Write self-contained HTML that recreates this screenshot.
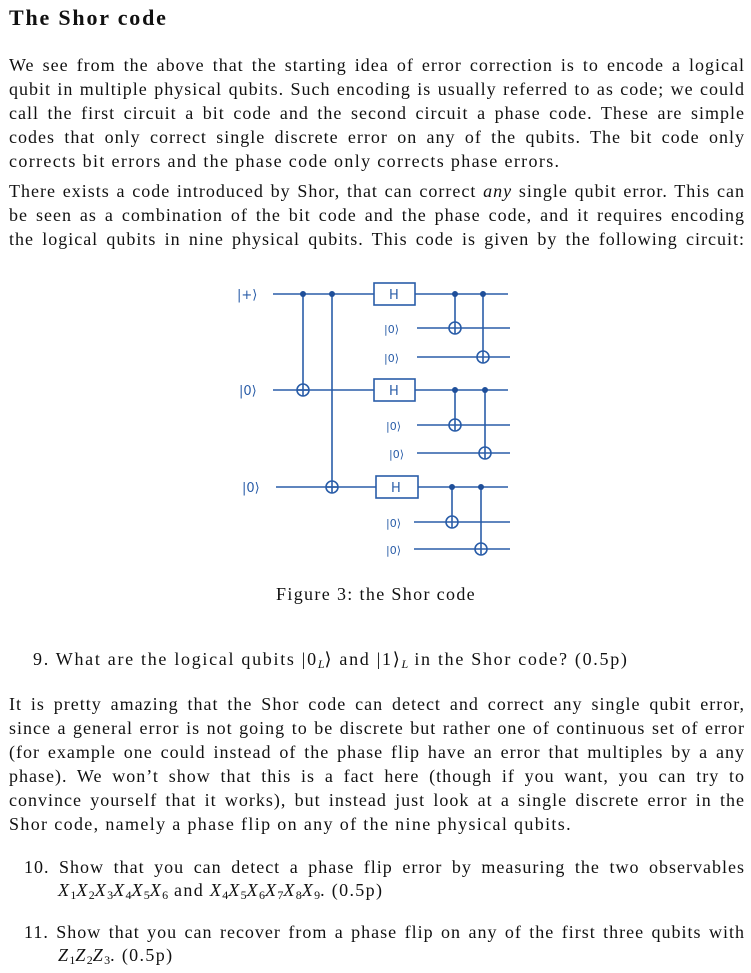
<!DOCTYPE html>
<html><head><meta charset="utf-8"><style>
body{margin:0;width:751px;height:973px;background:#fff;position:relative;overflow:hidden;font-family:"Liberation Serif",serif;color:#111;}
.l{position:absolute;left:9px;width:736px;font-size:18px;letter-spacing:1.0px;line-height:20px;white-space:nowrap;text-align:justify;text-align-last:justify;}
.n{text-align-last:auto;letter-spacing:1.35px;}
.t{position:absolute;left:9px;top:5px;font-size:22px;letter-spacing:1.8px;font-weight:bold;}
i{font-style:italic;}
sub{font-size:12px;vertical-align:-3px;line-height:0;letter-spacing:0;}
</style></head><body>
<div class="t">The Shor code</div>
<div class="l" style="top:55px">We see from the above that the starting idea of error correction is to encode a logical</div>
<div class="l" style="top:79px">qubit in multiple physical qubits. Such encoding is usually referred to as code; we could</div>
<div class="l" style="top:103px">call the first circuit a bit code and the second circuit a phase code. These are simple</div>
<div class="l" style="top:127px">codes that only correct single discrete error on any of the qubits. The bit code only</div>
<div class="l n" style="top:151px">corrects bit errors and the phase code only corrects phase errors.</div>
<div class="l" style="top:181px">There exists a code introduced by Shor, that can correct <i>any</i> single qubit error. This can</div>
<div class="l" style="top:205px">be seen as a combination of the bit code and the phase code, and it requires encoding</div>
<div class="l" style="top:229px">the logical qubits in nine physical qubits. This code is given by the following circuit:</div>

<svg style="position:absolute;left:0;top:0" width="751" height="973">
<g stroke="#2a5da8" stroke-width="1.6" fill="none">
<line x1="273" y1="294" x2="374" y2="294"/><line x1="415" y1="294" x2="508" y2="294"/>
<line x1="273" y1="390" x2="374" y2="390"/><line x1="415" y1="390" x2="508" y2="390"/>
<line x1="276" y1="487" x2="376" y2="487"/><line x1="418" y1="487" x2="508" y2="487"/>
<line x1="417" y1="328" x2="510" y2="328"/><line x1="417" y1="357" x2="510" y2="357"/>
<line x1="417" y1="425" x2="510" y2="425"/><line x1="417" y1="453" x2="510" y2="453"/>
<line x1="414" y1="522" x2="510" y2="522"/><line x1="414" y1="549" x2="510" y2="549"/>
<rect x="374" y="283" width="41" height="22"/><rect x="374" y="379" width="41" height="22"/><rect x="376" y="476" width="42" height="22"/>
<line x1="303" y1="294" x2="303" y2="396"/><line x1="332" y1="294" x2="332" y2="493"/>
<line x1="455" y1="294" x2="455" y2="334"/><line x1="483" y1="294" x2="483" y2="363"/>
<line x1="455" y1="390" x2="455" y2="431"/><line x1="485" y1="390" x2="485" y2="459"/>
<line x1="452" y1="487" x2="452" y2="528"/><line x1="481" y1="487" x2="481" y2="555"/>
<circle cx="303" cy="390" r="6"/><circle cx="332" cy="487" r="6"/>
<circle cx="455" cy="328" r="6"/><circle cx="483" cy="357" r="6"/>
<circle cx="455" cy="425" r="6"/><circle cx="485" cy="453" r="6"/>
<circle cx="452" cy="522" r="6"/><circle cx="481" cy="549" r="6"/>
<line x1="297" y1="390" x2="309" y2="390"/><line x1="326" y1="487" x2="338" y2="487"/>
</g>
<g fill="#1f4f9a">
<circle cx="303" cy="294" r="3"/><circle cx="332" cy="294" r="3"/>
<circle cx="455" cy="294" r="3"/><circle cx="483" cy="294" r="3"/>
<circle cx="455" cy="390" r="3"/><circle cx="485" cy="390" r="3"/>
<circle cx="452" cy="487" r="3"/><circle cx="481" cy="487" r="3"/>
</g>
<g fill="#2a5da8" font-family="DejaVu Sans, sans-serif" font-size="13">
<text x="237" y="299">|+⟩</text><text x="239" y="395">|0⟩</text><text x="242" y="492">|0⟩</text>
<text x="384" y="333" font-size="11">|0⟩</text><text x="384" y="362" font-size="11">|0⟩</text>
<text x="386" y="430" font-size="11">|0⟩</text><text x="389" y="458" font-size="11">|0⟩</text>
<text x="386" y="527" font-size="11">|0⟩</text><text x="386" y="554" font-size="11">|0⟩</text>
<text x="389" y="299">H</text><text x="389" y="395">H</text><text x="391" y="492">H</text>
</g>
</svg>

<div class="l n" style="top:584px;left:276px;width:auto">Figure 3: the Shor code</div>
<div class="l n" style="top:649px;left:33px;width:auto;letter-spacing:1.7px">9. What are the logical qubits |0<i><sub>L</sub></i>⟩ and |1⟩<i><sub>L</sub></i> in the Shor code? (0.5p)</div>
<div class="l" style="top:694px">It is pretty amazing that the Shor code can detect and correct any single qubit error,</div>
<div class="l" style="top:718px">since a general error is not going to be discrete but rather one of continuous set of error</div>
<div class="l" style="top:742px">(for example one could instead of the phase flip have an error that multiples by a any</div>
<div class="l" style="top:766px">phase). We won’t show that this is a fact here (though if you want, you can try to</div>
<div class="l" style="top:790px">convince yourself that it works), but instead just look at a single discrete error in the</div>
<div class="l n" style="top:814px">Shor code, namely a phase flip on any of the nine physical qubits.</div>
<div class="l" style="top:857px;left:24px;width:721px">10. Show that you can detect a phase flip error by measuring the two observables</div>
<div class="l n" style="top:880px;left:58px;width:auto"><i>X</i><sub>1</sub><i>X</i><sub>2</sub><i>X</i><sub>3</sub><i>X</i><sub>4</sub><i>X</i><sub>5</sub><i>X</i><sub>6</sub> and <i>X</i><sub>4</sub><i>X</i><sub>5</sub><i>X</i><sub>6</sub><i>X</i><sub>7</sub><i>X</i><sub>8</sub><i>X</i><sub>9</sub>. (0.5p)</div>
<div class="l" style="top:922px;left:24px;width:721px">11. Show that you can recover from a phase flip on any of the first three qubits with</div>
<div class="l n" style="top:945px;left:58px;width:auto"><i>Z</i><sub>1</sub><i>Z</i><sub>2</sub><i>Z</i><sub>3</sub>. (0.5p)</div>
</body></html>
